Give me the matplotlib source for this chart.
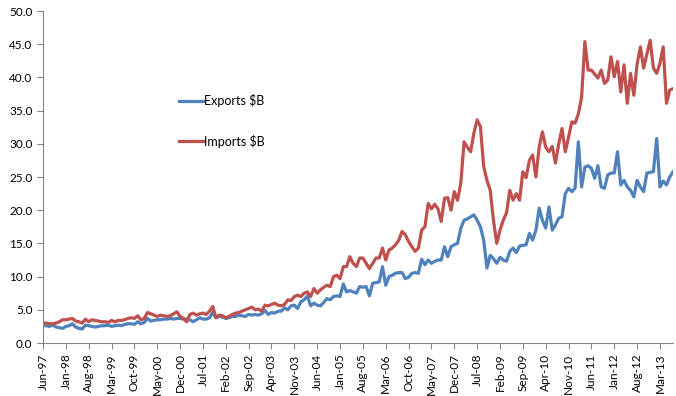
import pandas as pd
import matplotlib.pyplot as plt

#----- Datos mensuales Jun-97 a Jul-13 ($B) -----

months = pd.date_range("1997-06-01", periods=194, freq="MS").strftime("%b-%y").tolist()

exports = [
    2.6, 2.6, 2.5, 2.7, 2.4, 2.3, 2.2, 2.5, 2.6, 2.9,
    2.4, 2.2, 2.1, 2.7, 2.6, 2.5, 2.4, 2.5, 2.6, 2.6,
    2.7, 2.5, 2.6, 2.7, 2.6, 2.8, 2.9, 2.9, 2.8, 3.2,
    2.9, 3.1, 3.7, 3.3, 3.4, 3.5, 3.5, 3.6, 3.6, 3.7,
    3.6, 3.7, 3.7, 3.6, 3.6, 3.5, 3.2, 3.5, 3.8, 3.6,
    3.6, 3.8, 4.6, 3.8, 4.0, 3.9, 3.7, 3.8, 4.0, 4.0,
    4.2, 4.1, 4.0, 4.3, 4.2, 4.3, 4.2, 4.4, 4.9, 4.3,
    4.6, 4.5, 4.8, 4.8, 5.3, 5.0, 5.6, 5.7, 5.2, 6.2,
    6.5, 7.1, 5.6, 6.0, 5.7, 5.6, 6.1, 6.7, 6.5, 7.0,
    7.1, 7.0, 8.9, 7.7, 7.9, 7.7, 7.5, 8.5, 8.4, 8.5,
    7.1, 9.0, 9.1, 9.2, 11.5, 8.7, 10.0, 10.2, 10.5, 10.6,
    10.6, 9.7, 9.9, 10.5, 10.6, 10.5, 12.6, 11.8, 12.5, 12.0,
    12.3, 12.5, 12.5, 14.5, 13.0, 14.5, 14.8, 15.0, 17.3, 18.5,
    18.7, 19.0, 19.3, 18.5, 17.5, 15.5, 11.3, 13.2, 12.7, 12.0,
    12.9, 12.5, 12.3, 13.8, 14.3, 13.6, 14.6, 14.7, 14.8, 16.5,
    15.5, 17.0, 20.3, 18.5, 17.3, 20.5, 17.0, 17.8, 18.8, 19.0,
    22.5, 23.3, 22.8, 23.3, 30.3, 23.5, 26.5, 26.7, 26.3, 24.8,
    26.7, 23.5, 23.3, 25.3, 25.6, 25.6, 28.8, 23.8, 24.5, 23.5,
    23.0, 22.0, 24.5, 23.5, 22.8, 25.6, 25.7, 25.8, 30.8, 23.5,
    24.4, 23.8, 25.0, 25.8,
]

imports = [
    3.0, 3.0, 2.9, 2.9, 3.0, 3.2, 3.5, 3.5, 3.6, 3.7,
    3.3, 3.2, 3.0, 3.6, 3.2, 3.5, 3.4, 3.3, 3.2, 3.2,
    3.1, 3.4, 3.2, 3.4, 3.4, 3.5, 3.7, 3.8, 3.7, 4.1,
    3.5, 3.7, 4.6, 4.4, 4.2, 4.0, 4.2, 4.1, 4.0, 4.1,
    4.4, 4.7, 4.0, 3.7, 3.2, 4.3, 4.5, 4.2, 4.4, 4.5,
    4.3, 4.8, 5.5, 3.8, 4.2, 4.1, 3.8, 4.0, 4.3, 4.5,
    4.6, 4.8, 5.0, 5.2, 5.4, 5.0, 5.1, 4.8, 5.7, 5.6,
    5.8, 6.0, 5.7, 5.6, 5.8, 6.5, 6.4, 7.0, 7.2, 7.0,
    7.5, 7.7, 7.0, 8.2, 7.5, 8.0, 8.4, 8.7, 8.5, 10.0,
    10.2, 9.7, 11.5, 11.5, 13.0, 12.0, 11.5, 12.8, 12.8, 12.0,
    11.2, 12.0, 12.8, 12.8, 14.3, 12.5, 14.0, 14.3, 14.8, 15.5,
    16.8, 16.3, 15.3, 14.5, 13.8, 14.3, 17.0, 17.5, 21.0, 20.2,
    20.9, 20.2, 18.3, 21.8, 21.9, 20.0, 22.8, 21.5, 24.1, 30.3,
    29.5, 28.8, 31.6, 33.6, 32.6, 26.6, 24.5, 23.0, 18.5, 15.0,
    17.0, 18.5, 19.6, 23.0, 21.5, 22.5, 21.5, 25.8, 24.9, 27.5,
    28.3, 25.0, 29.5, 31.8, 29.5, 28.8, 29.6, 27.1, 30.0, 32.3,
    28.8, 31.0, 33.3, 33.1, 34.5, 37.0, 45.4, 41.1, 41.1, 40.5,
    39.9, 41.1, 39.1, 39.6, 43.1, 40.1, 42.4, 37.8, 41.9, 36.1,
    40.6, 37.3, 42.0, 44.6, 41.4, 43.5, 45.6, 41.4, 40.6, 42.1,
    44.6, 36.1, 38.1, 38.3,
]

#----- Grafico -----

plt.rcParams["font.family"] = ["Lato", "DejaVu Sans"]

fig = plt.figure(figsize=(6.76, 3.96), dpi=100)
ax = fig.add_axes([43 / 676, 1 - 343 / 396, 630 / 676, 332 / 396])

ax.plot(range(len(exports)), exports, color="#4F81BD", lw=2.3, label="Exports $B")
ax.plot(range(len(imports)), imports, color="#C0504D", lw=2.3, label="Imports $B")

ax.set_xlim(0, len(months) - 1)
ax.set_ylim(0, 50)
ax.set_yticks(range(0, 51, 5))
ax.set_yticklabels(["%.1f" % v for v in range(0, 51, 5)], fontsize=8.5)
ax.set_xticks(range(0, len(months), 7))
ax.set_xticklabels(months[::7], rotation=90, fontsize=8.5)

for s in ["top", "right"]:
    ax.spines[s].set_visible(False)
for s in ["left", "bottom"]:
    ax.spines[s].set_color("#868686")
ax.tick_params(colors="#868686", labelcolor="black", length=4)

ax.legend(loc="upper left", bbox_to_anchor=(168 / 676, 1 - 83 / 396),
          bbox_transform=fig.transFigure, frameon=False, fontsize=9,
          handlelength=1.9, handletextpad=0.1, labelspacing=2.2)

plt.savefig("out.png", dpi=100)
